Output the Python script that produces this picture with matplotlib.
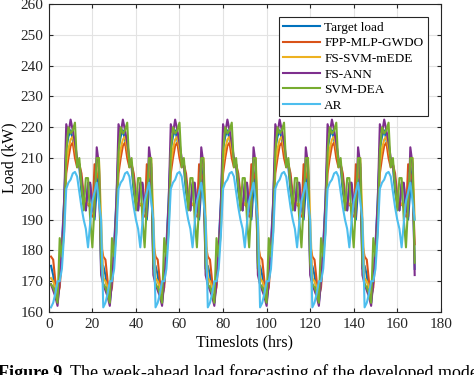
import numpy as np
import matplotlib
matplotlib.use("Agg")
import matplotlib.pyplot as plt

plt.rcParams['font.family'] = ['Liberation Serif', 'DejaVu Serif']

n_days = 7
# daily profiles (hour 1..24), repeated for each day of the week
target_day = [175, 172, 166, 163, 170, 182, 196, 213, 217, 219, 216, 212, 209, 207, 199, 195, 193, 201.5, 201.5, 192, 190, 200, 207, 174]
fpp_day = [178, 177, 170, 165, 168, 178, 190, 205, 210, 214, 215, 210, 207, 208, 205, 198, 195, 195, 194, 191, 208, 205, 203, 182]
svm_mede_day = [171, 170, 168, 166, 170, 180, 192, 208, 213, 216, 217, 213, 209, 208, 202, 197, 196, 195, 195, 192, 195, 207, 210, 190]
ann_day = [169, 167, 165, 162, 170, 180, 195, 221, 218, 222.5, 219, 215, 210, 208, 203, 196, 193, 202, 202, 194, 191, 213.5, 208, 172]
dea_day = [169, 168, 166, 163, 184, 178, 186, 212, 220, 218, 219, 221.5, 207, 210, 201, 193, 203.5, 203.5, 190, 181, 195, 210, 210, 176]
ar_day = [161.5, 163, 166, 170, 170, 174, 185, 200, 202, 203, 205, 205.5, 204, 199, 194, 190, 187, 181, 189, 196, 199, 202, 196, 190]

labels = ["Target load", "FPP-MLP-GWDO", "FS-SVM-mEDE", "FS-ANN", "SVM-DEA", "AR"]
colors = ["#0072BD", "#D95319", "#EDB120", "#7E2F8E", "#77AC30", "#4DBEEE"]
series = [target_day, fpp_day, svm_mede_day, ann_day, dea_day, ar_day]

x_ticks = [0, 20, 40, 60, 80, 100, 120, 140, 160, 180]
y_ticks = [160, 170, 180, 190, 200, 210, 220, 230, 240, 250, 260]

hours = np.arange(1, 24 * n_days + 1)

fig = plt.figure(figsize=(4.74, 3.75), dpi=100)
ax = fig.add_axes([0.103, 0.168, 0.827, 0.821])

for vals, lab, col in zip(series, labels, colors):
    y = np.tile(np.array(vals, dtype=float), n_days)
    ax.plot(hours, y, color=col, lw=1.5, label=lab)

ax.set_xlim(0, 180)
ax.set_ylim(160, 260)
ax.set_xticks(x_ticks)
ax.set_yticks(y_ticks)
ax.tick_params(direction='in', top=True, right=True, labelsize=11, length=3, colors='#262626', pad=4)
ax.grid(True, color='#e3e3e3', lw=0.8)
for s in ax.spines.values():
    s.set_color('#262626')
    s.set_linewidth(0.8)
ax.set_xlabel("Timeslots (hrs)", fontsize=11.5, labelpad=3)
ax.set_ylabel("Load (kW)", fontsize=11.5, labelpad=2)

leg = ax.legend(loc='upper right', bbox_to_anchor=(0.967, 0.958), fontsize=9.5, frameon=True,
                fancybox=False, edgecolor='#262626', framealpha=1, handlelength=2.8,
                borderpad=0.35, labelspacing=0.25, handletextpad=0.3, borderaxespad=0)
leg.get_frame().set_linewidth(0.8)

fig.text(-0.005, 0.005, "Figure 9.", fontsize=13, fontweight='bold', ha='left', va='center')
fig.text(0.148, 0.005, "The week-ahead load forecasting of the developed models", fontsize=13, ha='left', va='center')

fig.savefig("out.png", dpi=100)
